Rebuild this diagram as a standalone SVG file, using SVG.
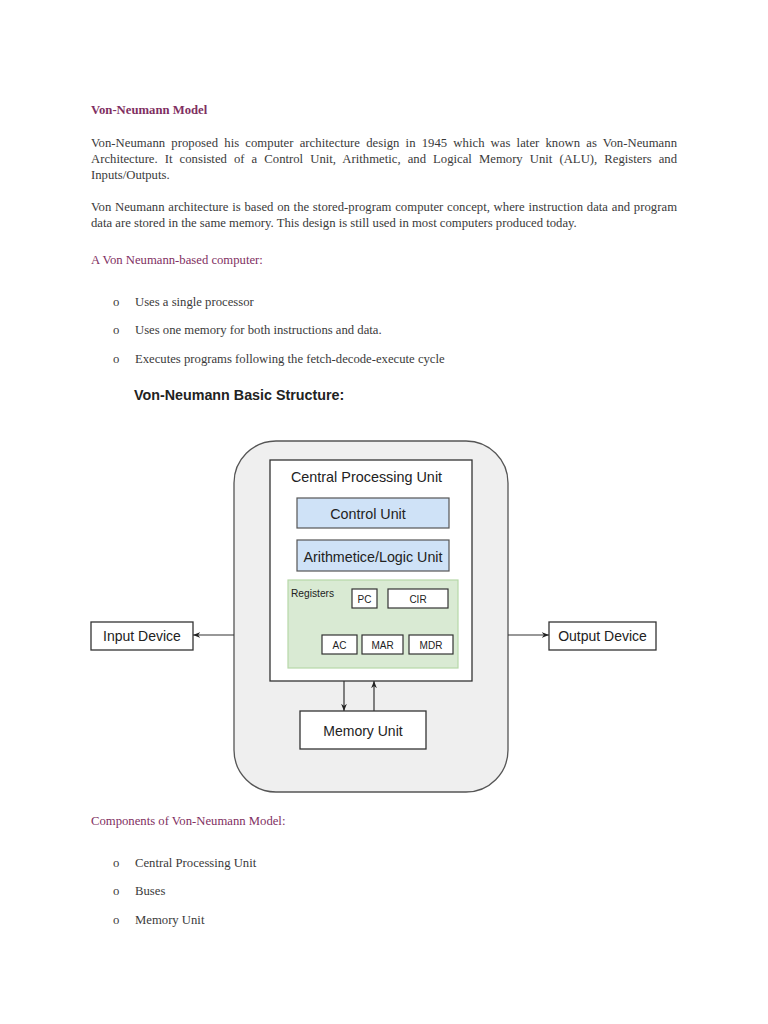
<svg xmlns="http://www.w3.org/2000/svg" width="768" height="1024" viewBox="0 0 768 1024">
<style>
.body{font-family:"Liberation Serif","Times New Roman",serif;font-size:12.7px;fill:#3a3a3a}
.head{font-family:"Liberation Serif","Times New Roman",serif;font-size:12.7px;fill:#7f2f62}
.sans{font-family:"Liberation Sans",Arial,sans-serif;fill:#222}
.box{fill:#fff;stroke:#333;stroke-width:1.3}
.blue{fill:#cfe2f7;stroke:#555;stroke-width:1.2}
.reg{fill:#fff;stroke:#333;stroke-width:1.2}
.conn{stroke:#333;stroke-width:1.2;fill:none}
</style>
<defs>
<marker id="ah" viewBox="0 0 10 10" refX="10" refY="5" markerWidth="6" markerHeight="6" orient="auto-start-reverse">
<path d="M0,1 L10,5 L0,9 L3,5 Z" fill="#222"/>
</marker>
</defs>
<rect width="768" height="1024" fill="#fff"/>

<text x="91" y="114" class="head" font-size="12.4" font-weight="bold" fill="#6e1e48">Von-Neumann Model</text>
<text x="91" y="147" class="body" word-spacing="2.9" textLength="586" lengthAdjust="spacing">Von-Neumann proposed his computer architecture design in 1945 which was later known as Von-Neumann</text>
<text x="91" y="163" class="body" word-spacing="3.9" textLength="586" lengthAdjust="spacing">Architecture. It consisted of a Control Unit, Arithmetic, and Logical Memory Unit (ALU), Registers and</text>
<text x="91" y="179" class="body">Inputs/Outputs.</text>
<text x="91" y="211" class="body" word-spacing="0.5" textLength="586" lengthAdjust="spacing">Von Neumann architecture is based on the stored-program computer concept, where instruction data and program</text>
<text x="91" y="227" class="body">data are stored in the same memory. This design is still used in most computers produced today.</text>

<text x="91" y="264" class="head">A Von Neumann-based computer:</text>
<text x="113" y="306" class="body">o</text><text x="135" y="306" class="body">Uses a single processor</text>
<text x="113" y="334" class="body">o</text><text x="135" y="334" class="body">Uses one memory for both instructions and data.</text>
<text x="113" y="363" class="body">o</text><text x="135" y="363" class="body">Executes programs following the fetch-decode-execute cycle</text>

<text x="134" y="400" class="sans" font-size="14.3" font-weight="bold" fill="#111">Von-Neumann Basic Structure:</text>

<g id="computer"><rect x="234" y="441" width="274" height="351" rx="42" fill="#efefef" stroke="#555" stroke-width="1.3"/></g>
<g id="cpu"><rect x="270" y="460" width="202" height="221" class="box"/>
<text x="366.5" y="482" class="sans" font-size="14.4" text-anchor="middle">Central Processing Unit</text></g>
<g id="control-unit"><rect x="297" y="498" width="152" height="30" class="blue"/>
<text x="368" y="519" class="sans" font-size="14.3" text-anchor="middle">Control Unit</text></g>
<g id="alu"><rect x="297" y="540" width="152" height="31" class="blue"/>
<text x="373" y="562" class="sans" font-size="14.3" text-anchor="middle">Arithmetice/Logic Unit</text></g>
<g id="registers"><rect x="288" y="580" width="170" height="88" fill="#d9ead3" stroke="#b6d7a8" stroke-width="1.2"/>
<text x="291" y="597" class="sans" font-size="10.2">Registers</text></g>
<g id="pc"><rect x="352" y="589" width="25" height="19" class="reg"/><text x="364.5" y="603" class="sans" font-size="10" text-anchor="middle">PC</text></g>
<g id="cir"><rect x="388" y="589" width="60" height="19" class="reg"/><text x="418" y="603" class="sans" font-size="10" text-anchor="middle">CIR</text></g>
<g id="ac"><rect x="322" y="635" width="35" height="19" class="reg"/><text x="339.5" y="649" class="sans" font-size="10" text-anchor="middle">AC</text></g>
<g id="mar"><rect x="362" y="635" width="41" height="19" class="reg"/><text x="382.5" y="649" class="sans" font-size="10" text-anchor="middle">MAR</text></g>
<g id="mdr"><rect x="409" y="635" width="44" height="19" class="reg"/><text x="431" y="649" class="sans" font-size="10" text-anchor="middle">MDR</text></g>
<g id="input-device"><rect x="91" y="622" width="102" height="28" class="box"/>
<text x="142" y="641" class="sans" font-size="14" text-anchor="middle">Input Device</text></g>
<g id="output-device"><rect x="549" y="622" width="107" height="28" class="box"/>
<text x="602.5" y="641" class="sans" font-size="14" text-anchor="middle">Output Device</text></g>
<g id="memory-unit"><rect x="300" y="711" width="126" height="38" class="box"/>
<text x="363" y="736" class="sans" font-size="14" text-anchor="middle">Memory Unit</text></g>

<g id="connectors">
<line x1="234" y1="635" x2="193" y2="635" class="conn" marker-end="url(#ah)"/>
<line x1="508" y1="635" x2="549" y2="635" class="conn" marker-end="url(#ah)"/>
<line x1="344" y1="681" x2="344" y2="711" class="conn" marker-end="url(#ah)"/>
<line x1="374" y1="711" x2="374" y2="681" class="conn" marker-end="url(#ah)"/>
</g>

<text x="91" y="825" class="head">Components of Von-Neumann Model:</text>
<text x="113" y="867" class="body">o</text><text x="135" y="867" class="body">Central Processing Unit</text>
<text x="113" y="895" class="body">o</text><text x="135" y="895" class="body">Buses</text>
<text x="113" y="924" class="body">o</text><text x="135" y="924" class="body">Memory Unit</text>
</svg>
